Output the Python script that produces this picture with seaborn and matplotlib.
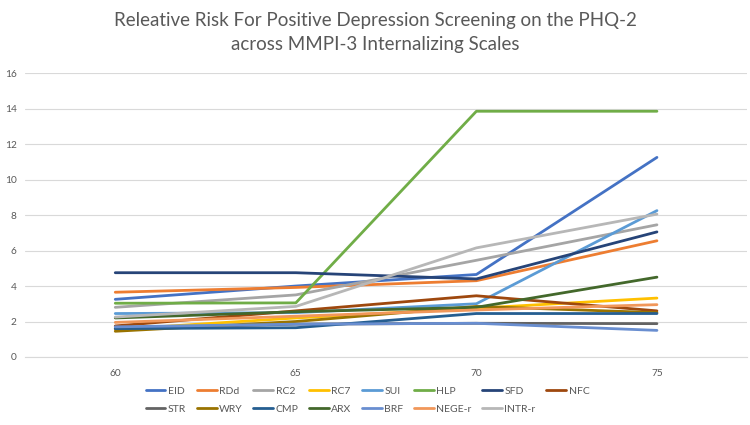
import seaborn as sns
import matplotlib.pyplot as plt
import pandas as pd

# T-score cut points on the x axis
t_scores = [60, 65, 70, 75]

# relative risk per scale
eid = [3.25, 4.0, 4.65, 11.25]
rdd = [3.65, 3.92, 4.3, 6.55]
rc2 = [2.8, 3.5, 5.45, 7.45]
rc7 = [1.55, 2.2, 2.75, 3.32]
sui = [2.45, 2.5, 3.0, 8.25]
hlp = [3.03, 3.05, 13.85, 13.85]
sfd = [4.75, 4.75, 4.4, 7.05]
nfc = [1.75, 2.6, 3.45, 2.6]
strs = [1.6, 1.85, 1.9, 1.88]
wry = [1.45, 2.0, 2.85, 2.5]
cmp_ = [1.6, 1.65, 2.45, 2.45]
arx = [2.2, 2.55, 2.8, 4.5]
brf = [1.7, 1.85, 1.9, 1.5]
nege = [1.95, 2.3, 2.65, 2.95]
intr = [2.25, 2.85, 6.15, 8.05]

scales = ['EID', 'RDd', 'RC2', 'RC7', 'SUI', 'HLP', 'SFD', 'NFC',
          'STR', 'WRY', 'CMP', 'ARX', 'BRF', 'NEGE-r', 'INTR-r']
values = [eid, rdd, rc2, rc7, sui, hlp, sfd, nfc,
          strs, wry, cmp_, arx, brf, nege, intr]
colors = ['#4472C4', '#ED7D31', '#A5A5A5', '#FFC000', '#5B9BD5', '#70AD47',
          '#264478', '#9E480E', '#636363', '#997300', '#255E91', '#43682B',
          '#698ED0', '#F1975A', '#B7B7B7']

rows = []
for name, vals in zip(scales, values):
    for t, v in zip(t_scores, vals):
        rows.append({'T': t, 'RR': v, 'Scale': name})
df = pd.DataFrame(rows)

sns.set_style('white')
plt.rcParams['font.family'] = ['Lato', 'DejaVu Sans']

fig = plt.figure(figsize=(7.5, 4.25), dpi=100)
ax = fig.add_axes([0.0333, 0.16, 0.963, 0.668])

sns.lineplot(data=df, x='T', y='RR', hue='Scale', hue_order=scales,
             palette=dict(zip(scales, colors)), linewidth=2.0, ax=ax,
             legend=False)

ax.set_xlim(57.5, 77.5)
ax.set_ylim(0, 16)
ax.set_xticks(t_scores)
ax.set_yticks(range(0, 17, 2))
ax.grid(axis='y', color='#d9d9d9', linewidth=0.8)
ax.set_axisbelow(True)
for s in ['top', 'right', 'left']:
    ax.spines[s].set_visible(False)
ax.spines['bottom'].set_color('#d9d9d9')
ax.tick_params(axis='both', length=0, labelsize=7.3, colors='#595959')
ax.tick_params(axis='x', pad=9)
ax.tick_params(axis='y', pad=6)
ax.set_xlabel('')
ax.set_ylabel('')

fig.suptitle('Releative Risk For Positive Depression Screening on the PHQ-2\n'
             'across MMPI-3 Internalizing Scales',
             y=0.972, fontsize=13.5, color='#595959', linespacing=1.5)

# legend fills column by column, so interleave to read row by row
order = []
for i in range(8):
    order.append(i)
    if i + 8 < len(scales):
        order.append(i + 8)
handles = [plt.Line2D([], [], color=colors[i], linewidth=2.0) for i in order]
labels = [scales[i] for i in order]
fig.legend(handles, labels, loc='upper center', bbox_to_anchor=(0.49, 0.1),
           ncol=8, frameon=False, fontsize=7.5, labelcolor='#595959',
           handlelength=1.9, handletextpad=0.25, columnspacing=1.0,
           borderaxespad=0, labelspacing=0.8)

plt.savefig('out.png', dpi=100)
